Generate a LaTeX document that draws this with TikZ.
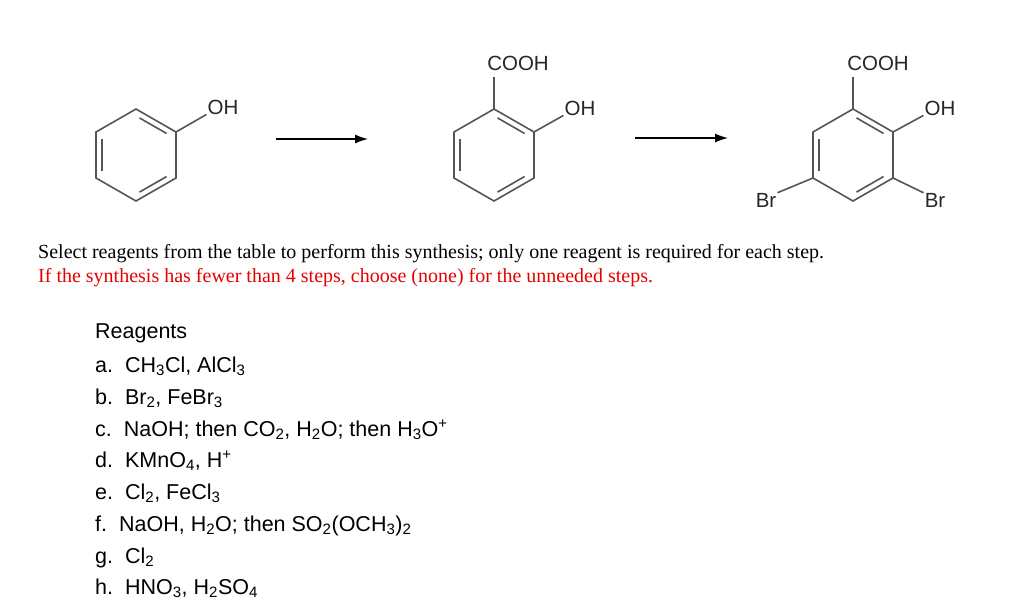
\documentclass[tikz,border=0pt]{standalone}
\usepackage{fontspec}
\setmainfont{Liberation Serif}
\setsansfont{Liberation Sans}
\usetikzlibrary{arrows.meta,calc}
\definecolor{bondgray}{RGB}{85,85,85}
\definecolor{redtext}{RGB}{230,0,0}
\begin{document}
\begin{tikzpicture}[x=1pt,y=-1pt,
  bond/.style={draw=bondgray,line width=1.6pt},
  inbond/.style={draw=bondgray,line width=1.6pt,shorten >=4pt,shorten <=4pt},
  lbl/.style={font=\sffamily\fontsize{20.5}{22}\selectfont,inner sep=0pt,text=black!85},
  rxn/.style={draw=black,line width=1.3pt,-{Latex[length=13pt,width=9pt]}},
  item/.style={font=\sffamily\fontsize{21.5}{24}\selectfont,anchor=base west,inner sep=0pt},
  sent/.style={font=\fontsize{20}{22}\selectfont,anchor=base west,inner sep=0pt}]
\useasboundingbox[fill=white] (0,0) rectangle (1024,614);
\foreach \nm/\cx in {A/136,B/494,C/853}{
  \coordinate (\nm t) at (\cx,109);
  \coordinate (\nm ur) at (\cx+40,132);
  \coordinate (\nm lr) at (\cx+40,178);
  \coordinate (\nm b) at (\cx,201);
  \coordinate (\nm ll) at (\cx-40,178);
  \coordinate (\nm ul) at (\cx-40,132);
  \coordinate (\nm c) at (\cx,155);
  \draw[bond] (\nm t)--(\nm ur)--(\nm lr)--(\nm b)--(\nm ll)--(\nm ul)--cycle;
  \draw[inbond] ($(\nm c)!0.85!(\nm t)$) -- ($(\nm c)!0.85!(\nm ur)$);
  \draw[inbond] ($(\nm c)!0.85!(\nm lr)$) -- ($(\nm c)!0.85!(\nm b)$);
  \draw[inbond] ($(\nm c)!0.85!(\nm ll)$) -- ($(\nm c)!0.85!(\nm ul)$);
}
% ring A substituent
\node[lbl] (ohA) at (223,107) {OH};
\draw[bond] (Aur) -- ([xshift=-1pt]ohA.south west);
% ring B
\node[lbl] (coB) at (518,63) {COOH};
\draw[bond] (Bt) -- (494,77);
\node[lbl] (ohB) at (580,108) {OH};
\draw[bond] (Bur) -- ([xshift=-1pt]ohB.south west);
% ring C
\node[lbl] (coC) at (878,63) {COOH};
\draw[bond] (Ct) -- (853,77);
\node[lbl] (ohC) at (940,108) {OH};
\draw[bond] (Cur) -- ([xshift=-1pt]ohC.south west);
\node[lbl] (brL) at (766,200) {Br};
\draw[bond] (Cll) -- ([xshift=1pt]brL.north east);
\node[lbl] (brR) at (935,200) {Br};
\draw[bond] (Clr) -- ([xshift=-1pt]brR.north west);
% arrows
\coordinate (a1s) at (276,139); \coordinate (a1e) at (368,139);
\coordinate (a2s) at (635,138); \coordinate (a2e) at (728,138);
\draw[rxn] (a1s) -- (a1e);
\draw[rxn] (a2s) -- (a2e);
% text
\node[sent] (s1) at (38,258) {Select reagents from the table to perform this synthesis; only one reagent is required for each step.};
\node[sent,text=redtext] (s2) at (38,282) {If the synthesis has fewer than 4 steps, choose (none) for the unneeded steps.};
\node[item] (r0) at (95,338) {Reagents};
\node[item] (ra) at (95,372) {a.\ \ CH\textsubscript{3}Cl, AlCl\textsubscript{3}};
\node[item] (rb) at (95,404) {b.\ \ Br\textsubscript{2}, FeBr\textsubscript{3}};
\node[item] (rc) at (95,436) {c.\ \ NaOH; then CO\textsubscript{2}, H\textsubscript{2}O; then H\textsubscript{3}O\textsuperscript{+}};
\node[item] (rd) at (95,467) {d.\ \ KMnO\textsubscript{4}, H\textsuperscript{+}};
\node[item] (re) at (95,499) {e.\ \ Cl\textsubscript{2}, FeCl\textsubscript{3}};
\node[item] (rf) at (95,531) {f.\ \ NaOH, H\textsubscript{2}O; then SO\textsubscript{2}(OCH\textsubscript{3})\textsubscript{2}};
\node[item] (rg) at (95,563) {g.\ \ Cl\textsubscript{2}};
\node[item] (rh) at (95,594) {h.\ \ HNO\textsubscript{3}, H\textsubscript{2}SO\textsubscript{4}};
\end{tikzpicture}
\end{document}
